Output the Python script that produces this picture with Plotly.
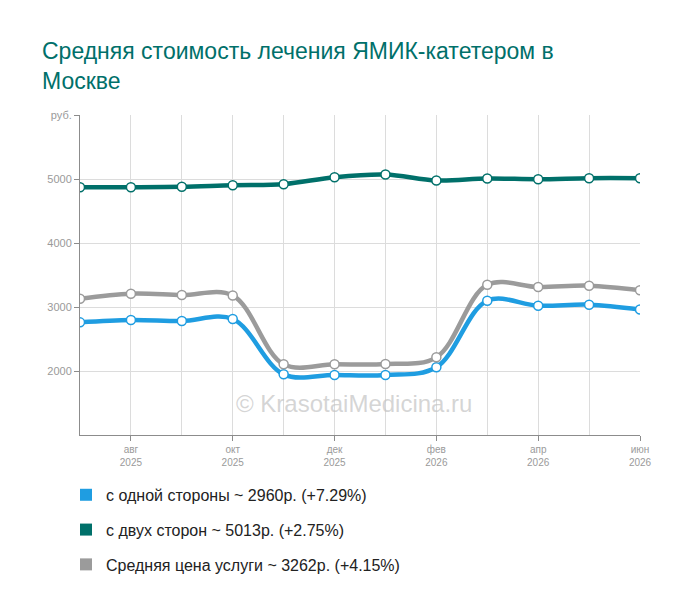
import plotly.graph_objects as go

months = ["июл 2025", "авг 2025", "сен 2025", "окт 2025", "ноя 2025", "дек 2025",
          "янв 2026", "фев 2026", "мар 2026", "апр 2026", "май 2026", "июн 2026"]
tick_idx = [1, 3, 5, 7, 9, 11]
tick_labels = ["авг<br>2025", "окт<br>2025", "дек<br>2025", "фев<br>2026", "апр<br>2026", "июн<br>2026"]

one_side = [2760, 2797, 2781, 2812, 1948, 1937, 1937, 2058, 3098, 3020, 3036, 2960]
two_sides = [4872, 4872, 4878, 4903, 4919, 5028, 5070, 4977, 5008, 4997, 5013, 5013]
average = [3130, 3208, 3187, 3181, 2105, 2105, 2109, 2214, 3348, 3312, 3333, 3262]

names = ["с одной стороны ~ 2960р. (+7.29%)",
         "с двух сторон ~ 5013р. (+2.75%)",
         "Средняя цена услуги ~ 3262р. (+4.15%)"]
colors = ["#1f9de1", "#00706a", "#9b9b9b"]
series = [one_side, two_sides, average]

y_ticks = [2000, 3000, 4000, 5000, 6000]
y_ticktext = ["2000", "3000", "4000", "5000", "руб."]

x = list(range(len(months)))
fig = go.Figure()
for i, (vals, col, nm) in enumerate(zip(series, colors, names)):
    fig.add_trace(go.Scatter(
        x=x, y=vals, mode="lines+markers", showlegend=False,
        line=dict(color=col, width=4.5, shape="spline", smoothing=1),
        marker=dict(size=9, color="white", line=dict(color=col, width=1.5)),
        hovertext=months, name=nm))
for i, (col, nm) in enumerate(zip(colors, names)):
    fig.add_trace(go.Scatter(
        x=[None], y=[None], mode="markers", name=nm, legendgroup=str(i),
        marker=dict(symbol="square", size=15, color=col)))

fig.add_annotation(text="© KrasotaiMedicina.ru", x=0.489, y=0.097, xref="paper", yref="paper",
                   xanchor="center", yanchor="middle",
                   showarrow=False, font=dict(family="Liberation Sans, Arial", size=24,
                                               color="rgba(195,195,195,0.7)"))

fig.update_layout(
    width=700, height=612,
    margin=dict(l=80, r=60, t=115, b=177),
    paper_bgcolor="white", plot_bgcolor="white",
    font=dict(family="Liberation Sans, Arial, sans-serif"),
    title=dict(text="Средняя стоимость лечения ЯМИК-катетером в<br>Москве",
               x=0, xref="container", xanchor="left", y=0.903, yanchor="top",
               pad=dict(l=42),
               font=dict(size=23, color="#00706a")),
    showlegend=True,
    legend=dict(x=-0.025, xanchor="left", y=-0.134, yanchor="top",
                font=dict(size=16, color="#222"), tracegroupgap=11,
                itemsizing="constant"),
    xaxis=dict(range=[0, 11], tickmode="array", tickvals=tick_idx, ticktext=tick_labels,
               showgrid=True, gridcolor="#dcdcdc", gridwidth=1,
               showline=True, linecolor="#8c8c8c", linewidth=1,
               ticks="outside", ticklen=5, tickcolor="#8c8c8c",
               tickfont=dict(size=10, color="#9a9a9a"), zeroline=False,
               minor=dict(tickvals=x, showgrid=True, gridcolor="#dcdcdc", ticks="")),
    yaxis=dict(range=[1000, 6000], tickmode="array", tickvals=y_ticks, ticktext=y_ticktext,
               showgrid=False, showline=True, linecolor="#8c8c8c", linewidth=1,
               ticks="outside", ticklen=5, tickcolor="#8c8c8c",
               tickfont=dict(size=11, color="#9a9a9a"), zeroline=False,
               minor=dict(tickvals=y_ticks[:-1], showgrid=True, gridcolor="#dcdcdc", ticks="")),
)

fig.write_html("out.html")
